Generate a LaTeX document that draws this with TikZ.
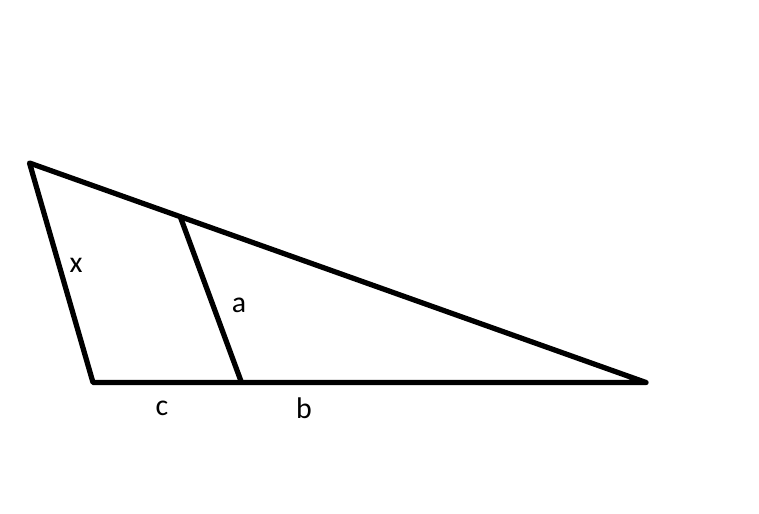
\documentclass[tikz,border=0pt]{standalone}
\usepackage{fontspec}
\setmainfont{Carlito}

\tikzset{
    side/.style = {line width=0.105cm, line join=round},
    lbl/.style  = {font=\fontsize{17}{20}\selectfont, inner sep=0pt}
}

\begin{document}
\begin{tikzpicture}[x=0.02cm, y=-0.02cm]
            \useasboundingbox (0,0) rectangle (759,513);
            \coordinate (top) at (29.5,163);
            \coordinate (left) at (93,382.5);
            \coordinate (right) at (646,382.5);
            \coordinate (mtop) at (180,216);
            \coordinate (mbot) at (241.5,382.5);
            \draw[side] (top) -- (left) -- (right) -- cycle;
            \draw[side] (mtop) -- (mbot);
            \node[lbl] (x) at (76,265) {x};
            \node[lbl] (a) at (239,305) {a};
            \node[lbl] (c) at (162,408) {c};
            \node[lbl] (b) at (304,408) {b};
        \end{tikzpicture}
\end{document}
